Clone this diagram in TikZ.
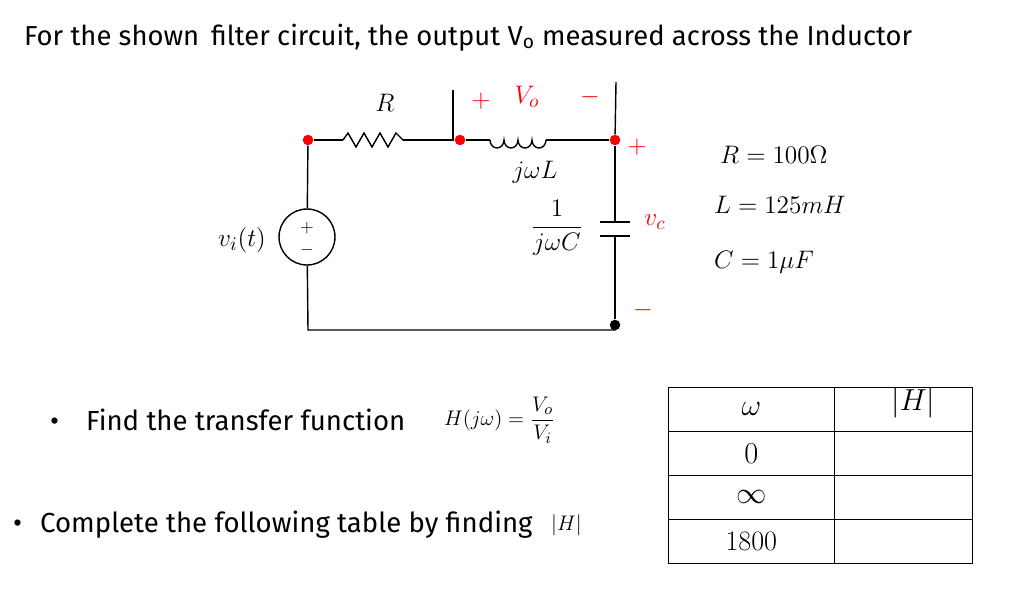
\documentclass[tikz,border=0pt]{standalone}
\usepackage{amsmath}
\usepackage{fontspec}
\usepackage{tikz}
\usetikzlibrary{positioning,calc}
\newfontfamily\comic{Fira Sans}
\begin{document}
\begin{tikzpicture}[x=0.02cm,y=-0.02cm,
    wire/.style={thick},
    dot/.style={circle, fill=red, inner sep=0pt, minimum size=6pt},
    bdot/.style={circle, fill=black, inner sep=0pt, minimum size=6pt},
    lbl/.style={font=\fontsize{15.5}{18}\selectfont},
    red lbl/.style={lbl, text=red},
    prose/.style={font=\comic\fontsize{15.7}{19}\selectfont, anchor=base west},
    cell/.style={draw, minimum height=0.88cm, anchor=north west, font=\fontsize{16}{19}\selectfont}
]
    \useasboundingbox (0,0) rectangle (1024,613);
    % heading
    \node[prose, font=\comic\fontsize{15.6}{19}\selectfont] (title) at (18,45) {For the shown\, filter circuit, the output V$_{\text{o}}$ measured across the Inductor};

    % circuit nodes
    \node[dot] (tl) at (308,140) {};
    \node[dot] (mid) at (460,140) {};
    \node[dot] (tr) at (615,140) {};
    \node[bdot] (br) at (615,325) {};
    \coordinate (bl) at (308,330);
    \node[draw, thick, circle, minimum size=1.12cm, inner sep=0pt] (src) at (307,237) {};
    \node at (307,228) {$+$};
    \node at (307,250) {$-$};
    \coordinate (ra) at (343,140);
    \coordinate (rb) at (403,140);
    \coordinate (la) at (490,140);
    \coordinate (lb) at (546,140);
    \coordinate (ca) at (615,222);
    \coordinate (cb) at (615,236);

    \draw[wire] (tl) -- (ra);
    \draw[wire] (ra) -- ++(5,-7) -- ++(8,14) -- ++(8,-14) -- ++(8,14) -- ++(8,-14) -- ++(8,14) -- ++(8,-14) -- (rb);
    \draw[wire] (rb) -- (mid) -- (la);
    \draw[wire] (la) arc (180:0:7 and 8) arc (180:0:7 and 8) arc (180:0:7 and 8) arc (180:0:7 and 8);
    \draw[wire] (lb) -- (tr) -- (ca);
    \draw[wire] ($(ca)+(-15,0)$) -- ($(ca)+(15,0)$);
    \draw[wire] ($(cb)+(-15,0)$) -- ($(cb)+(15,0)$);
    \draw[wire] (cb) -- (br);
    \draw[wire] (br) |- (bl) -- (src);
    \draw[wire] (src) -- (tl);
    \draw[wire] (453,90) -- (453,140);
    \draw[wire] (616,82) -- (tr);

    % circuit labels
    \node[lbl] (rlbl) at (385,103) {$R$};
    \node[red lbl] (vop) at (481,101) {$+$};
    \node[red lbl] (vo) at (527,97) {$V_o$};
    \node[red lbl] (vom) at (590,97) {$-$};
    \node[lbl] (llbl) at (535,172) {$j\omega L$};
    \node[lbl] (clbl) at (557,228) {$\dfrac{1}{j\omega C}$};
    \node[red lbl] (vc) at (655,222) {$v_c$};
    \node[red lbl] (vcp) at (637,147) {$+$};
    \node[red lbl] (vcm) at (643,310) {$-$};
    \node[lbl] (vi) at (242,240) {$v_i(t)$};

    % values
    \node[lbl, anchor=west] (rv) at (714,155) {$R=100\Omega$};
    \node[lbl, anchor=west] (lv) at (708,205) {$L=125mH$};
    \node[lbl, anchor=west] (cv) at (708,262) {$C=1\mu F$};

    % tasks
    \node[prose] (b1) at (44,430) {\textbullet};
    \node[prose] (t1) at (80,430) {Find the transfer function};
    \node[anchor=west, font=\fontsize{13}{15}\selectfont] (hf) at (438,420) {$H(j\omega)=\dfrac{V_o}{V_i}$};
    \node[prose] (b2) at (7,532) {\textbullet};
    \node[prose] (t2) at (34,532) {Complete the following table by finding};
    \node[anchor=west, font=\fontsize{13}{15}\selectfont] (habs) at (545,525) {$|H|$};

    % table
    \foreach \r/\txt in {0/{$\omega$},1/{$0$},2/{$\infty$},3/{1800}}{
        \node[cell, minimum width=3.32cm] (a\r) at (668,{387+44*\r}) {\txt};
        \node[cell, minimum width=2.76cm] (b\r) at (834,{387+44*\r}) {};
    }
    \node[font=\fontsize{16}{19}\selectfont] (hcell) at ($(b0)+(10,-6)$) {$|H|$};
\end{tikzpicture}
\end{document}
